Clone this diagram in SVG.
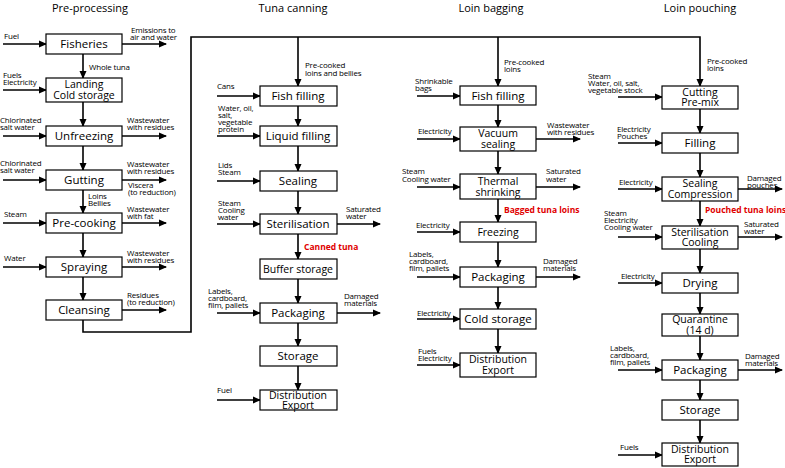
<svg xmlns="http://www.w3.org/2000/svg" width="785" height="468" viewBox="0 0 785 468">
<style>
.b{fill:#fff;stroke:#000;stroke-width:1.2}
.t{font-family:"Open Sans","Liberation Sans",sans-serif;font-size:11.5px;text-anchor:middle;fill:#000}
.tb{font-size:10.5px}
.l{font-family:"Open Sans","Liberation Sans",sans-serif;font-size:8px;fill:#000;letter-spacing:-0.2px}
.h{font-family:"Open Sans","Liberation Sans",sans-serif;font-size:11px;text-anchor:middle;fill:#000}
.r{font-family:"Open Sans","Liberation Sans",sans-serif;font-size:8.5px;font-weight:bold;fill:#e00000}
.c{stroke:#000;stroke-width:1.6;fill:none}
</style>
<defs><marker id="a" markerWidth="8" markerHeight="8" refX="7" refY="4" orient="auto" markerUnits="userSpaceOnUse"><path d="M0,0.5L8,4L0,7.5z" fill="#000"/></marker></defs>
<text class="h" x="90" y="12">Pre-processing</text>
<text class="h" x="293" y="12">Tuna canning</text>
<text class="h" x="491" y="12">Loin bagging</text>
<text class="h" x="700" y="12">Loin pouching</text>
<g id="connectors">
<path class="c" d="M83,320V332H191V37H700V86" marker-end="url(#a)"/>
<path class="c" d="M298,37V86" marker-end="url(#a)"/>
<path class="c" d="M498,37V86" marker-end="url(#a)"/>
<path class="c" d="M83,54V78" marker-end="url(#a)"/><path class="c" d="M83,102V126" marker-end="url(#a)"/><path class="c" d="M83,146V170" marker-end="url(#a)"/><path class="c" d="M83,190V213" marker-end="url(#a)"/><path class="c" d="M83,233V257" marker-end="url(#a)"/><path class="c" d="M83,277V300" marker-end="url(#a)"/>
<path class="c" d="M3,44H46" marker-end="url(#a)"/><path class="c" d="M3,90H46" marker-end="url(#a)"/><path class="c" d="M3,136H46" marker-end="url(#a)"/><path class="c" d="M3,180H46" marker-end="url(#a)"/><path class="c" d="M3,223H46" marker-end="url(#a)"/><path class="c" d="M3,267H46" marker-end="url(#a)"/>
<path class="c" d="M122,44H166" marker-end="url(#a)"/><path class="c" d="M122,136H166" marker-end="url(#a)"/><path class="c" d="M122,180H166" marker-end="url(#a)"/><path class="c" d="M122,223H166" marker-end="url(#a)"/><path class="c" d="M122,267H166" marker-end="url(#a)"/><path class="c" d="M122,310H166" marker-end="url(#a)"/>
<path class="c" d="M298,106V126" marker-end="url(#a)"/><path class="c" d="M298,146V171" marker-end="url(#a)"/><path class="c" d="M298,191V214" marker-end="url(#a)"/><path class="c" d="M298,234V259" marker-end="url(#a)"/><path class="c" d="M298,279V303" marker-end="url(#a)"/><path class="c" d="M298,323V346" marker-end="url(#a)"/><path class="c" d="M298,366V390" marker-end="url(#a)"/>
<path class="c" d="M217,96H260" marker-end="url(#a)"/><path class="c" d="M217,136H260" marker-end="url(#a)"/><path class="c" d="M217,181H260" marker-end="url(#a)"/><path class="c" d="M217,224H260" marker-end="url(#a)"/><path class="c" d="M217,313H260" marker-end="url(#a)"/><path class="c" d="M217,400H260" marker-end="url(#a)"/>
<path class="c" d="M337,224H380" marker-end="url(#a)"/><path class="c" d="M337,313H380" marker-end="url(#a)"/>
<path class="c" d="M498,105V127" marker-end="url(#a)"/><path class="c" d="M498,151V174" marker-end="url(#a)"/><path class="c" d="M498,199V222" marker-end="url(#a)"/><path class="c" d="M498,242V267" marker-end="url(#a)"/><path class="c" d="M498,287V309" marker-end="url(#a)"/><path class="c" d="M498,329V353" marker-end="url(#a)"/>
<path class="c" d="M417,96H460" marker-end="url(#a)"/><path class="c" d="M417,139H460" marker-end="url(#a)"/><path class="c" d="M417,187H460" marker-end="url(#a)"/><path class="c" d="M417,232H460" marker-end="url(#a)"/><path class="c" d="M417,277H460" marker-end="url(#a)"/><path class="c" d="M417,319H460" marker-end="url(#a)"/><path class="c" d="M417,365H460" marker-end="url(#a)"/>
<path class="c" d="M536,139H580" marker-end="url(#a)"/><path class="c" d="M536,187H580" marker-end="url(#a)"/><path class="c" d="M536,277H580" marker-end="url(#a)"/>
<path class="c" d="M700,109V133" marker-end="url(#a)"/><path class="c" d="M700,153V177" marker-end="url(#a)"/><path class="c" d="M700,201V226" marker-end="url(#a)"/><path class="c" d="M700,249V273" marker-end="url(#a)"/><path class="c" d="M700,293V314" marker-end="url(#a)"/><path class="c" d="M700,336V360" marker-end="url(#a)"/><path class="c" d="M700,380V400" marker-end="url(#a)"/><path class="c" d="M700,420V443" marker-end="url(#a)"/>
<path class="c" d="M618,97H662" marker-end="url(#a)"/><path class="c" d="M618,143H662" marker-end="url(#a)"/><path class="c" d="M618,189H662" marker-end="url(#a)"/><path class="c" d="M618,237H662" marker-end="url(#a)"/><path class="c" d="M618,283H662" marker-end="url(#a)"/><path class="c" d="M618,370H662" marker-end="url(#a)"/><path class="c" d="M618,455H662" marker-end="url(#a)"/>
<path class="c" d="M738,189H782" marker-end="url(#a)"/><path class="c" d="M738,237H782" marker-end="url(#a)"/><path class="c" d="M738,370H782" marker-end="url(#a)"/>
</g>
<g id="n1"><rect class="b" x="46" y="34" width="76" height="20"/><text class="t" x="84" y="48">Fisheries</text></g>
<g id="n2"><rect class="b" x="46" y="78" width="76" height="24"/><text class="t tb" x="84" y="88">Landing</text><text class="t tb" x="84" y="99">Cold storage</text></g>
<g id="n3"><rect class="b" x="46" y="126" width="76" height="20"/><text class="t" x="84" y="140">Unfreezing</text></g>
<g id="n4"><rect class="b" x="46" y="170" width="76" height="20"/><text class="t" x="84" y="184">Gutting</text></g>
<g id="n5"><rect class="b" x="46" y="213" width="76" height="20"/><text class="t" x="84" y="227">Pre-cooking</text></g>
<g id="n6"><rect class="b" x="46" y="257" width="76" height="20"/><text class="t" x="84" y="271">Spraying</text></g>
<g id="n7"><rect class="b" x="46" y="300" width="76" height="20"/><text class="t" x="84" y="314">Cleansing</text></g>
<g id="c1"><rect class="b" x="260" y="86" width="77" height="20"/><text class="t" x="298" y="100">Fish filling</text></g>
<g id="c2"><rect class="b" x="260" y="126" width="77" height="20"/><text class="t" x="298" y="140">Liquid filling</text></g>
<g id="c3"><rect class="b" x="260" y="171" width="77" height="20"/><text class="t" x="298" y="185">Sealing</text></g>
<g id="c4"><rect class="b" x="260" y="214" width="77" height="20"/><text class="t" x="298" y="228">Sterilisation</text></g>
<g id="c5"><rect class="b" x="260" y="259" width="77" height="20"/><text class="t tb" x="298" y="273">Buffer storage</text></g>
<g id="c6"><rect class="b" x="260" y="303" width="77" height="20"/><text class="t" x="298" y="317">Packaging</text></g>
<g id="c7"><rect class="b" x="260" y="346" width="77" height="20"/><text class="t" x="298" y="360">Storage</text></g>
<g id="c8"><rect class="b" x="260" y="390" width="77" height="20"/><text class="t tb" x="298" y="399">Distribution</text><text class="t tb" x="298" y="409">Export</text></g>
<g id="b1"><rect class="b" x="460" y="86" width="76" height="19"/><text class="t" x="498" y="100">Fish filling</text></g>
<g id="b2"><rect class="b" x="460" y="127" width="76" height="24"/><text class="t tb" x="498" y="137">Vacuum</text><text class="t tb" x="498" y="148">sealing</text></g>
<g id="b3"><rect class="b" x="460" y="174" width="76" height="25"/><text class="t tb" x="498" y="185">Thermal</text><text class="t tb" x="498" y="196">shrinking</text></g>
<g id="b4"><rect class="b" x="460" y="222" width="76" height="20"/><text class="t tb" x="498" y="236">Freezing</text></g>
<g id="b5"><rect class="b" x="460" y="267" width="76" height="20"/><text class="t" x="498" y="281">Packaging</text></g>
<g id="b6"><rect class="b" x="460" y="309" width="76" height="20"/><text class="t" x="498" y="323">Cold storage</text></g>
<g id="b7"><rect class="b" x="460" y="353" width="76" height="24"/><text class="t tb" x="498" y="363">Distribution</text><text class="t tb" x="498" y="374">Export</text></g>
<g id="p1"><rect class="b" x="662" y="86" width="76" height="23"/><text class="t tb" x="700" y="96">Cutting</text><text class="t tb" x="700" y="106">Pre-mix</text></g>
<g id="p2"><rect class="b" x="662" y="133" width="76" height="20"/><text class="t" x="700" y="147">Filling</text></g>
<g id="p3"><rect class="b" x="662" y="177" width="76" height="24"/><text class="t tb" x="700" y="187">Sealing</text><text class="t tb" x="700" y="198">Compression</text></g>
<g id="p4"><rect class="b" x="662" y="226" width="76" height="23"/><text class="t tb" x="700" y="236">Sterilisation</text><text class="t tb" x="700" y="246">Cooling</text></g>
<g id="p5"><rect class="b" x="662" y="273" width="76" height="20"/><text class="t" x="700" y="287">Drying</text></g>
<g id="p6"><rect class="b" x="662" y="314" width="76" height="22"/><text class="t tb" x="700" y="323">Quarantine</text><text class="t tb" x="700" y="334">(14 d)</text></g>
<g id="p7"><rect class="b" x="662" y="360" width="76" height="20"/><text class="t" x="700" y="374">Packaging</text></g>
<g id="p8"><rect class="b" x="662" y="400" width="76" height="20"/><text class="t" x="700" y="414">Storage</text></g>
<g id="p9"><rect class="b" x="662" y="443" width="76" height="23"/><text class="t tb" x="700" y="453">Distribution</text><text class="t tb" x="700" y="463">Export</text></g>
<g id="labels">
<text class="l" x="4" y="39">Fuel</text>
<text class="l" x="3" y="78">Fuels</text><text class="l" x="3" y="85">Electricity</text>
<text class="l" x="0" y="123">Chlorinated</text><text class="l" x="0" y="130">salt water</text>
<text class="l" x="0" y="166">Chlorinated</text><text class="l" x="0" y="173">salt water</text>
<text class="l" x="4" y="217">Steam</text>
<text class="l" x="4" y="261">Water</text>
<text class="l" x="131" y="33">Emissions to</text><text class="l" x="130" y="40">air and water</text>
<text class="l" x="89" y="70">Whole tuna</text>
<text class="l" x="127" y="123">Wastewater</text><text class="l" x="127" y="130">with residues</text>
<text class="l" x="127" y="167">Wastewater</text><text class="l" x="127" y="174">with residues</text>
<text class="l" x="128" y="188">Viscera</text><text class="l" x="128" y="195">(to reduction)</text>
<text class="l" x="88" y="199">Loins</text><text class="l" x="88" y="206">Bellies</text>
<text class="l" x="127" y="212">Wastewater</text><text class="l" x="127" y="219">with fat</text>
<text class="l" x="127" y="256">Wastewater</text><text class="l" x="127" y="263">with residues</text>
<text class="l" x="127" y="298">Residues</text><text class="l" x="127" y="305">(to reduction)</text>
<text class="l" x="305" y="68">Pre-cooked</text><text class="l" x="305" y="76">loins and bellies</text>
<text class="l" x="217" y="89">Cans</text>
<text class="l" x="218" y="111">Water, oil,</text><text class="l" x="218" y="118">salt,</text><text class="l" x="218" y="125">vegetable</text><text class="l" x="218" y="132">protein</text>
<text class="l" x="218" y="168">Lids</text><text class="l" x="218" y="175">Steam</text>
<text class="l" x="218" y="206">Steam</text><text class="l" x="218" y="213">Cooling</text><text class="l" x="218" y="220">water</text>
<text class="l" x="346" y="212">Saturated</text><text class="l" x="346" y="219">water</text>
<text class="r" x="304" y="250">Canned tuna</text>
<text class="l" x="208" y="294">Labels,</text><text class="l" x="208" y="301">cardboard,</text><text class="l" x="208" y="308">film, pallets</text>
<text class="l" x="344" y="299">Damaged</text><text class="l" x="344" y="306">materials</text>
<text class="l" x="217" y="393">Fuel</text>
<text class="l" x="504" y="65">Pre-cooked</text><text class="l" x="504" y="72">loins</text>
<text class="l" x="415" y="84">Shrinkable</text><text class="l" x="415" y="91">bags</text>
<text class="l" x="418" y="134">Electricity</text>
<text class="l" x="547" y="128">Wastewater</text><text class="l" x="547" y="135">with residues</text>
<text class="l" x="402" y="174">Steam</text><text class="l" x="402" y="182">Cooling water</text>
<text class="l" x="546" y="174">Saturated</text><text class="l" x="546" y="182">water</text>
<text class="r" x="504" y="213">Bagged tuna loins</text>
<text class="l" x="416" y="228">Electricity</text>
<text class="l" x="409" y="257">Labels,</text><text class="l" x="409" y="264">cardboard,</text><text class="l" x="409" y="271">film, pallets</text>
<text class="l" x="543" y="264">Damaged</text><text class="l" x="543" y="271">materials</text>
<text class="l" x="417" y="316">Electricity</text>
<text class="l" x="418" y="354">Fuels</text><text class="l" x="418" y="361">Electricity</text>
<text class="l" x="707" y="64">Pre-cooked</text><text class="l" x="707" y="71">loins</text>
<text class="l" x="588" y="79">Steam</text><text class="l" x="588" y="86">Water, oil, salt,</text><text class="l" x="588" y="93">vegetable stock</text>
<text class="l" x="617" y="132">Electricity</text><text class="l" x="617" y="139">Pouches</text>
<text class="l" x="619" y="185">Electricity</text>
<text class="l" x="747" y="181">Damaged</text><text class="l" x="747" y="188">pouches</text>
<text class="r" x="705" y="213">Pouched tuna loins</text>
<text class="l" x="604" y="216">Steam</text><text class="l" x="604" y="223">Electricity</text><text class="l" x="604" y="230">Cooling water</text>
<text class="l" x="744" y="227">Saturated</text><text class="l" x="744" y="234">water</text>
<text class="l" x="621" y="279">Electricity</text>
<text class="l" x="610" y="351">Labels,</text><text class="l" x="610" y="358">cardboard,</text><text class="l" x="610" y="365">film, pallets</text>
<text class="l" x="745" y="359">Damaged</text><text class="l" x="745" y="366">materials</text>
<text class="l" x="620" y="450">Fuels</text>
</g>
</svg>
